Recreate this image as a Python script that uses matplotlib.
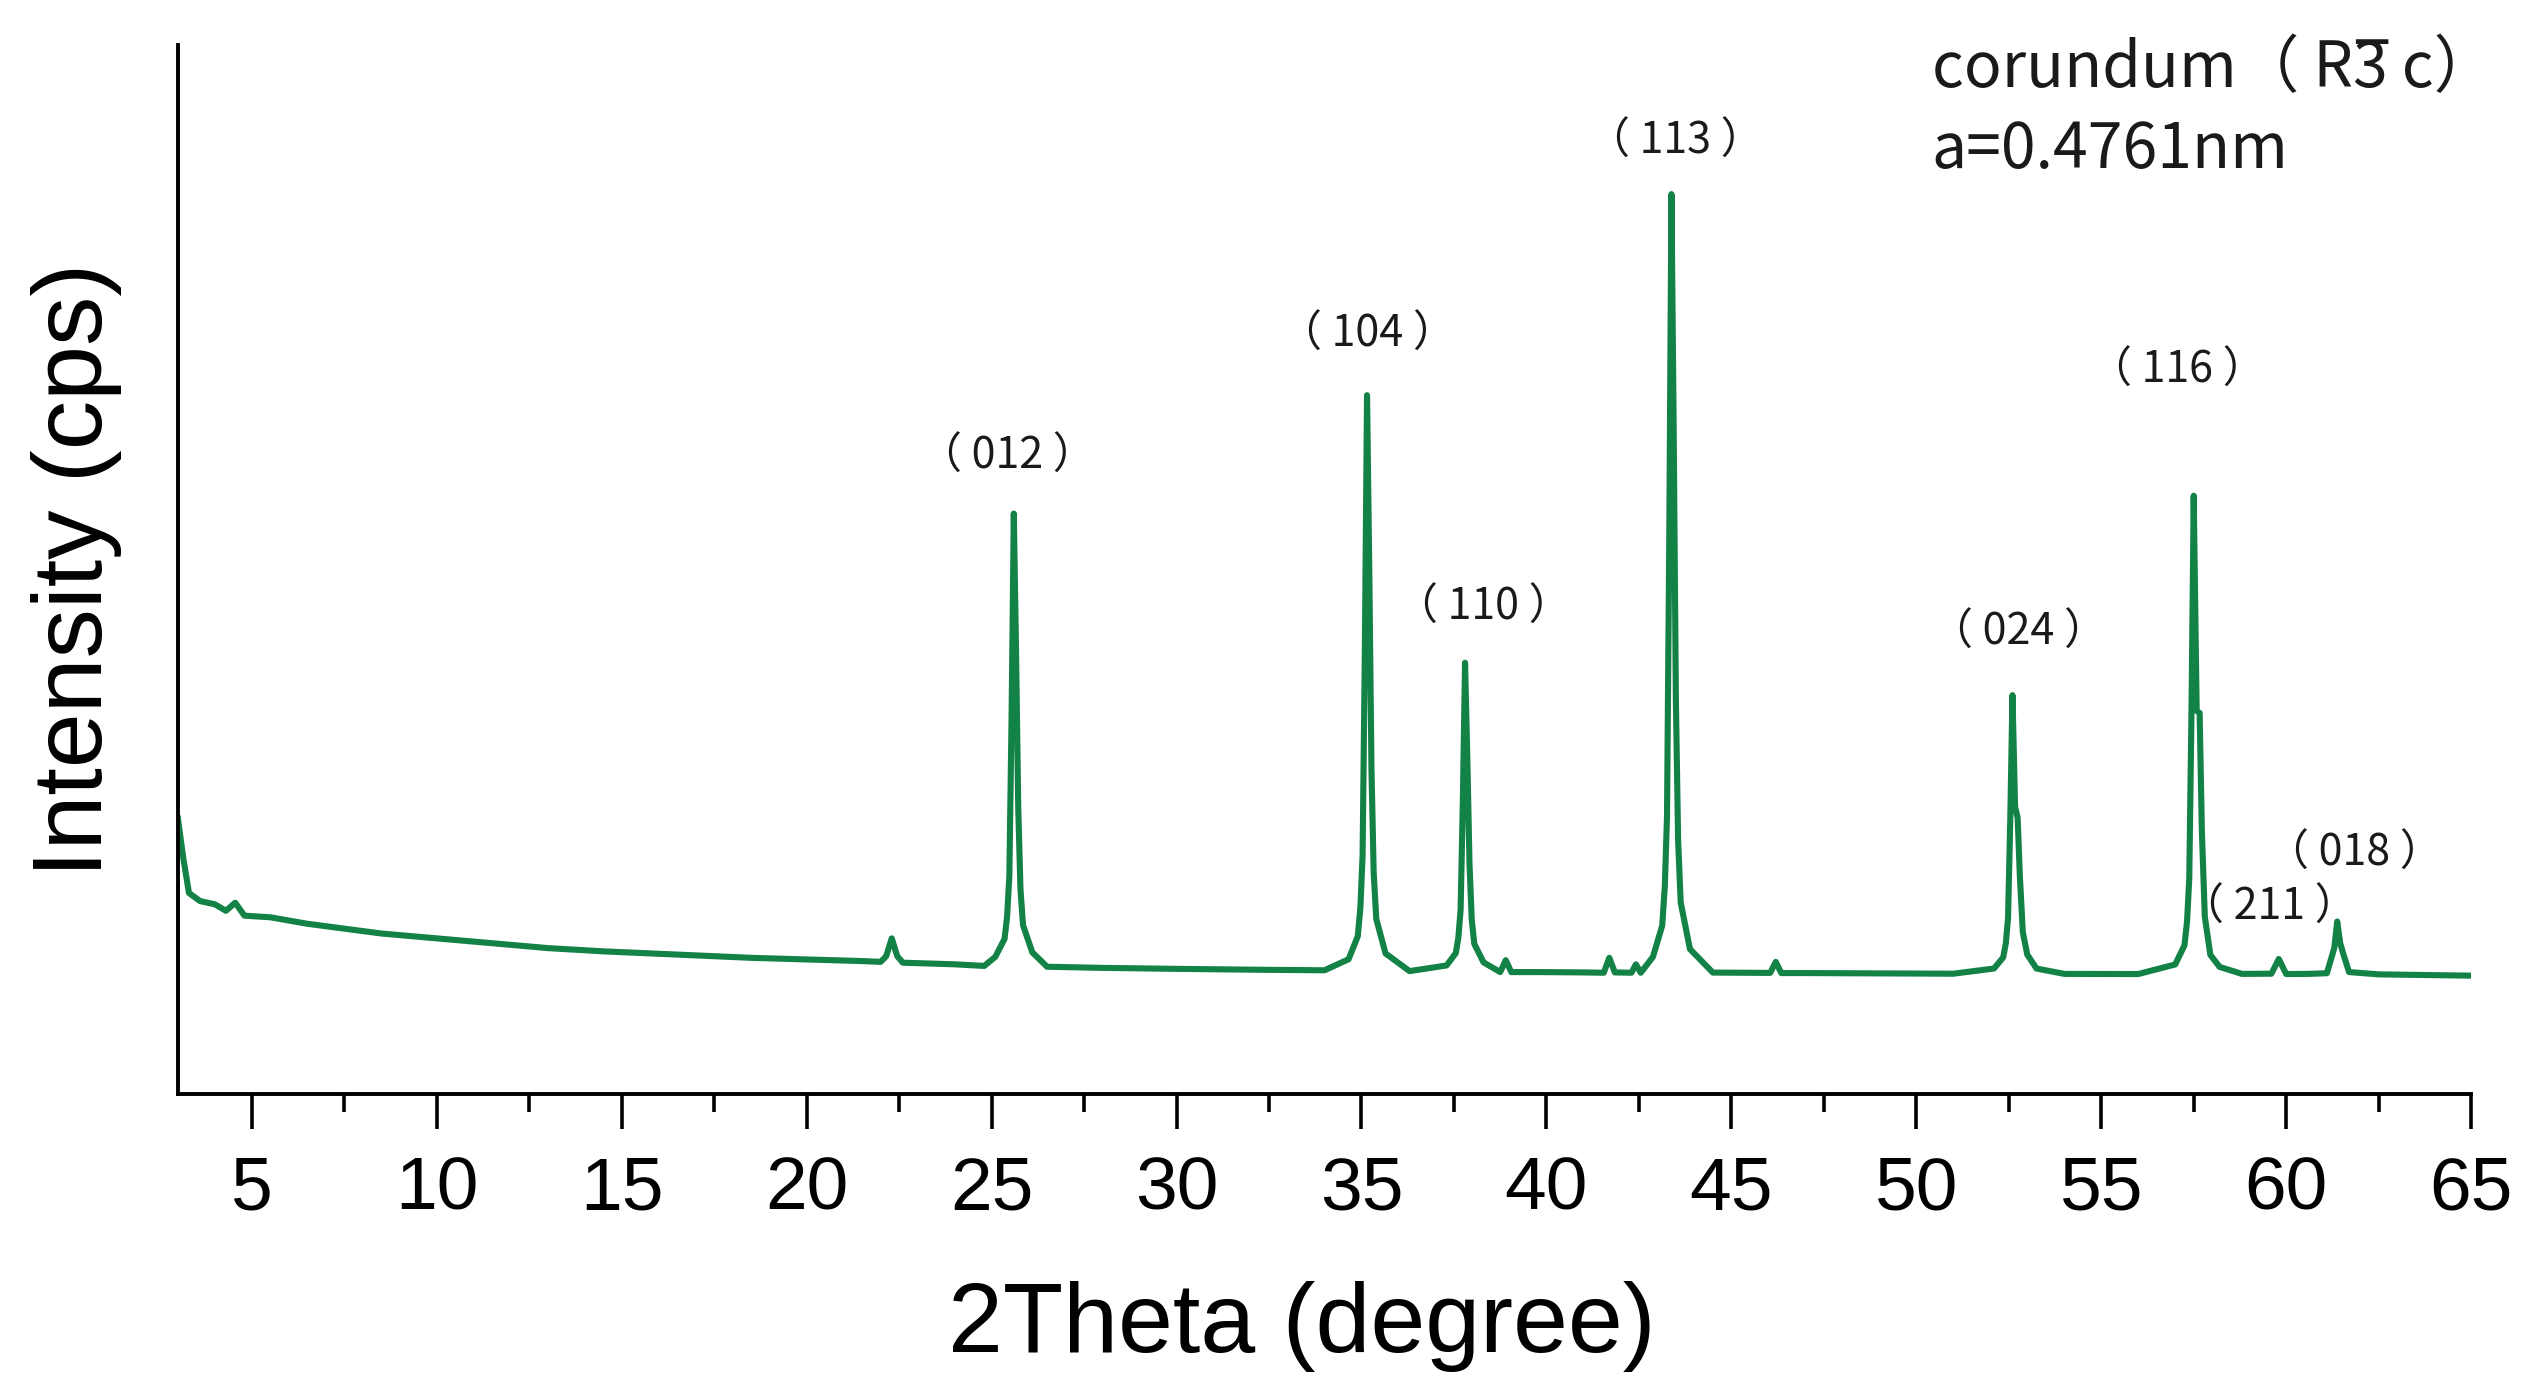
import matplotlib
matplotlib.use("Agg")
import matplotlib.pyplot as plt
from matplotlib.ticker import MultipleLocator

# ---- data (2theta in degree, intensity in arbitrary cps) ----
two_theta = [
    3.00, 3.15, 3.30, 3.60, 4.00, 4.30, 4.55, 4.80, 5.50, 6.50, 7.50, 8.50,
    10.0, 11.5, 13.0, 14.5, 15.5, 17.0, 18.5, 20.0, 21.5, 22.0, 22.15, 22.30,
    22.45, 22.60, 24.0, 24.8,
    25.10, 25.35, 25.42, 25.48, 25.54, 25.60, 25.66, 25.72, 25.78, 25.85, 26.10,
    26.5, 28.0, 30.0, 32.0, 34.0,
    34.65, 34.90, 34.97, 35.03, 35.09, 35.15, 35.21, 35.27, 35.33, 35.40, 35.65,
    36.3,
    37.30, 37.55, 37.62, 37.68, 37.74, 37.80, 37.86, 37.92, 37.98, 38.05, 38.30,
    38.75, 38.90, 39.05, 39.8, 41.0, 41.55, 41.70, 41.85, 42.30, 42.42, 42.55,
    42.88, 43.13, 43.20, 43.26, 43.32, 43.38, 43.44, 43.50, 43.56, 43.63, 43.88,
    44.5, 45.5, 46.05, 46.20, 46.35, 47.0, 49.0, 51.0,
    52.10, 52.35, 52.42, 52.48, 52.54, 52.60, 52.67, 52.74, 52.80, 52.88, 53.00, 53.25,
    54.0, 56.0,
    57.00, 57.25, 57.32, 57.38, 57.44, 57.50, 57.58, 57.66, 57.72, 57.80, 57.95, 58.20,
    58.8, 59.6, 59.8, 60.0, 60.6,
    61.10, 61.30, 61.38, 61.46, 61.55, 61.70,
    62.5, 63.5, 65.0,
]
intensity = [
    1700, 1450, 1240, 1190, 1170, 1130, 1180, 1100, 1090, 1050, 1020, 990,
    960, 930, 900, 880, 870, 855, 840, 830, 820, 815, 850, 960,
    850, 810, 800, 790,
    846, 957, 1097, 1348, 2325, 3580, 2743, 1767, 1264, 1041, 874,
    785, 778, 772, 767, 763,
    831, 973, 1150, 1470, 2713, 4310, 3245, 2003, 1364, 1080, 867,
    758,
    793, 869, 965, 1136, 1803, 2660, 2089, 1422, 1079, 926, 812,
    752, 825, 752, 752, 750, 748, 840, 750, 748, 800, 748,
    846, 1038, 1278, 1710, 3390, 5550, 4110, 2430, 1566, 1182, 894,
    749, 748, 747, 815, 746, 746, 744, 742,
    774, 843, 929, 1084, 1686, 2460, 1772, 1703, 1342, 998, 860, 774,
    741, 740,
    799, 917, 1065, 1330, 2363, 3690, 2363, 2350, 1625, 1094, 858, 784,
    741, 742, 833, 740, 741,
    745, 900, 1064, 930, 860, 752,
    738, 735, 730,
]

peak_labels = ["（ 012 ）", "（ 104 ）", "（ 110 ）", "（ 113 ）", "（ 024 ）",
               "（ 116 ）", "（ 211 ）", "（ 018 ）"]
label_x = [25.42, 35.15, 38.29, 43.48, 52.76, 57.07, 59.55, 61.85]
label_y = [3930, 4680, 3000, 5870, 2845, 4460, 1150, 1480]

info_lines = ["corundum（ R3\u0305 c）", "a=0.4761nm"]
info_x = 50.42
info_y = [6212, 5711]

xticks = [5, 10, 15, 20, 25, 30, 35, 40, 45, 50, 55, 60, 65]

# ---- figure ----
fig = plt.figure(figsize=(25.41, 13.88), dpi=100)
ax = fig.add_axes([0.0700, 0.2118, 0.9025, 0.7558])

ax.plot(two_theta, intensity, color="#138246", lw=4.4, solid_joinstyle="round")

ax.set_xlim(3, 65)
ax.set_ylim(0, 6470)

for s in ["top", "right"]:
    ax.spines[s].set_visible(False)
for s in ["left", "bottom"]:
    ax.spines[s].set_linewidth(2.8)
    ax.spines[s].set_color("black")

ax.set_xticks(xticks)
ax.xaxis.set_minor_locator(MultipleLocator(2.5))
ax.tick_params(axis="x", which="major", direction="out", length=25, width=2.6,
               pad=19, labelsize=54)
ax.tick_params(axis="x", which="minor", direction="out", length=13, width=2.6)
ax.set_yticks([])
for lab in ax.get_xticklabels():
    lab.set_fontfamily("Liberation Sans")

ax.set_xlabel("2Theta (degree)", fontsize=71, family="Liberation Sans", labelpad=41)
ax.xaxis.label.set_x(0.49)
ax.set_ylabel("Intensity (cps)", fontsize=71, family="Liberation Sans", labelpad=40)

cjk = ["Noto Sans CJK SC", "DejaVu Sans"]
for t, x, y in zip(peak_labels, label_x, label_y):
    ax.text(x, y, t, ha="center", va="center", fontsize=31, family=cjk, color="#1a1a1a")

for t, y in zip(info_lines, info_y):
    ax.text(info_x, y, t, ha="left", va="baseline", fontsize=45, family=cjk, color="#1a1a1a")

fig.savefig("out.png", dpi=100, facecolor="white")
